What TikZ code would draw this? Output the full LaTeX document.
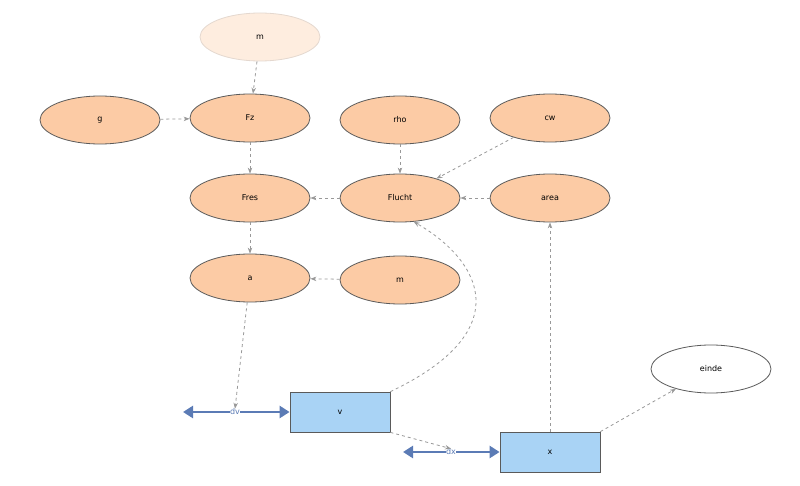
\documentclass[tikz,border=0pt]{standalone}
\usepackage{fontspec}
\setmainfont{DejaVu Sans}
\usetikzlibrary{shapes.geometric, arrows.meta, positioning}
\definecolor{aux}{HTML}{FCCBA5}
\definecolor{stock}{HTML}{A9D3F5}
\definecolor{flow}{HTML}{5B7BB5}
\definecolor{rim}{HTML}{5A5A5A}
\begin{document}
\begin{tikzpicture}[x=1pt, y=-1pt, font=\footnotesize,
    var/.style={ellipse, draw=rim, thick, fill=aux, minimum width=120pt, minimum height=48pt},
    ghost/.style={var, draw=aux!60!rim!40, fill=aux!35},
    level/.style={rectangle, draw=rim, thick, fill=stock, minimum width=100pt, minimum height=40pt},
    link/.style={draw=gray!80, thick, dashed, -{Stealth[length=6pt]}},
    rate/.style={draw=flow, line width=2.5pt, -{Triangle[length=10pt,width=12pt]}}
]
    \useasboundingbox (0,0) rectangle (800,486);
    % Variables
    \node[ghost] (m) at (260,37) {m};
    \node[var] (g) at (100,120) {g};
    \node[var] (fz) at (250,118) {Fz};
    \node[var] (rho) at (400,120) {rho};
    \node[var] (cw) at (550,118) {cw};
    \node[var] (fres) at (250,198) {Fres};
    \node[var] (flucht) at (400,198) {Flucht};
    \node[var] (area) at (550,198) {area};
    \node[var] (a) at (250,278) {a};
    \node[var] (mm) at (400,280) {m};
    \node[var, fill=white] (einde) at (711,369) {einde};
    % Stocks and flows
    \node[level] (v) at (340,412) {v};
    \node[level] (x) at (550,452) {x};
    \node[inner sep=0pt, text=flow] (dv) at (235,412) {dv};
    \node[inner sep=0pt, text=flow] (dx) at (451,452) {dx};
    \coordinate (dvsrc) at (183,412);
    \coordinate (dxsrc) at (403,452);
    \draw[rate] (dv) -- (v);
    \draw[rate] (dv) -- (dvsrc);
    \draw[rate] (dx) -- (x);
    \draw[rate] (dx) -- (dxsrc);
    % Links
    \draw[link] (m) -- (fz);
    \draw[link] (g) -- (fz);
    \draw[link] (fz) -- (fres);
    \draw[link] (rho) -- (flucht);
    \draw[link] (cw) -- (flucht);
    \draw[link] (area) -- (flucht);
    \draw[link] (flucht) -- (fres);
    \draw[link] (fres) -- (a);
    \draw[link] (mm) -- (a);
    \draw[link] (a) -- (dv.north);
    \draw[link] (v.north east) .. controls (520,330) and (480,260) .. (flucht.-60);
    \draw[link] (v.south east) -- (dx.north);
    \draw[link] (x.north) -- (area);
    \draw[link] (x.north east) -- (einde);
\end{tikzpicture}
\end{document}
